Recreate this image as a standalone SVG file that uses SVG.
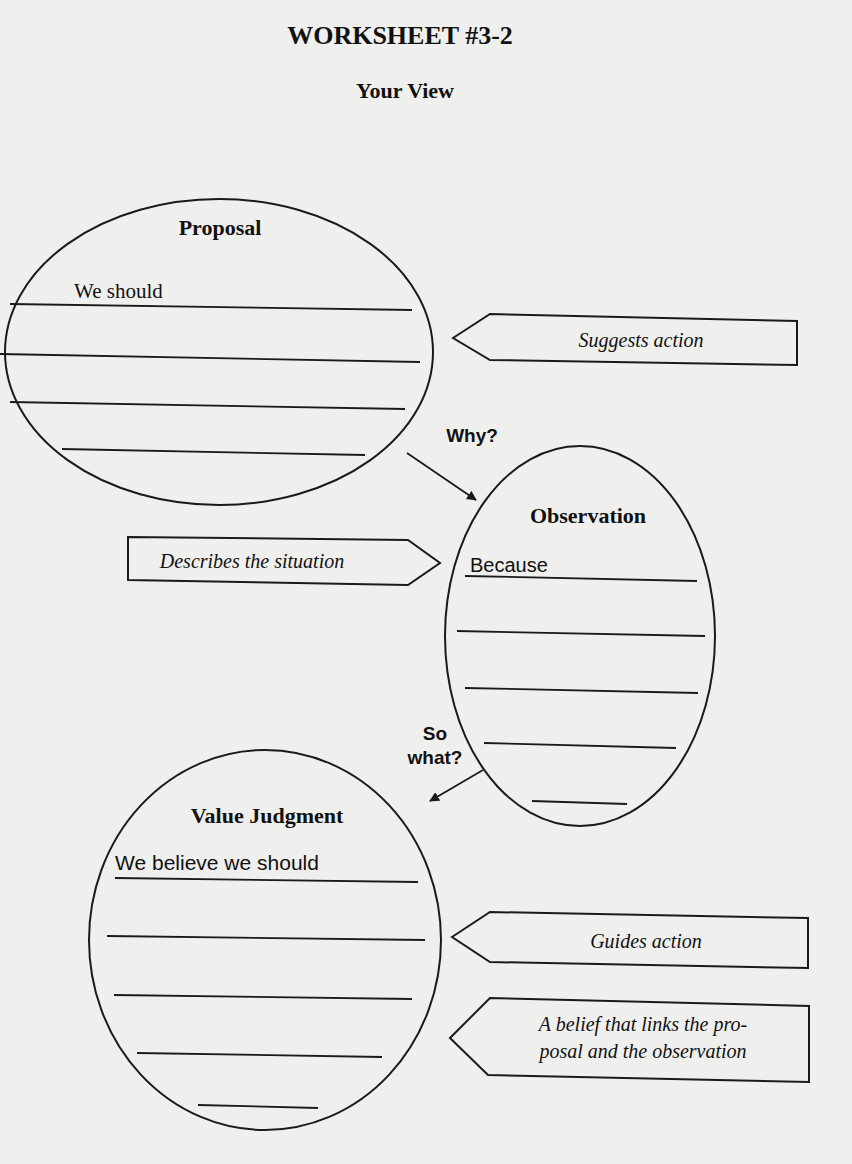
<svg xmlns="http://www.w3.org/2000/svg" width="852" height="1164" viewBox="0 0 852 1164">
<style>
.o{fill:none;stroke:#1a1a1a;stroke-width:2}
.l{stroke:#1a1a1a;stroke-width:1.8}
.t{font-family:"Liberation Serif",serif;fill:#111}
.b{font-weight:bold}
.i{font-style:italic;font-size:20px}
</style>
<defs><marker id="a" markerWidth="10" markerHeight="10" refX="9" refY="5" orient="auto" markerUnits="userSpaceOnUse"><path d="M0,0L10,5L0,10z" fill="#1a1a1a"/></marker></defs>
<rect width="852" height="1164" fill="#efefed"/>
<text class="t b" x="400" y="44" font-size="26" text-anchor="middle">WORKSHEET #3-2</text>
<text class="t b" x="405" y="98" font-size="22" text-anchor="middle">Your View</text>
<g id="proposal">
<ellipse class="o" cx="219" cy="352" rx="214" ry="153"/>
<text class="t b" x="220" y="235" font-size="22" text-anchor="middle">Proposal</text>
<text class="t" x="74" y="298" font-size="21">We should</text>
<line class="l" x1="10" y1="304" x2="412" y2="310"/>
<line class="l" x1="0" y1="354" x2="420" y2="362"/>
<line class="l" x1="10" y1="402" x2="405" y2="409"/>
<line class="l" x1="62" y1="449" x2="365" y2="455"/>
</g>
<g id="observation">
<ellipse class="o" cx="580" cy="636" rx="135" ry="190"/>
<text class="t b" x="588" y="523" font-size="22" text-anchor="middle">Observation</text>
<text class="t" x="470" y="572" font-size="20" style="font-family:'Liberation Sans',sans-serif">Because</text>
<line class="l" x1="465" y1="576" x2="697" y2="581"/>
<line class="l" x1="457" y1="631" x2="705" y2="636"/>
<line class="l" x1="465" y1="688" x2="698" y2="693"/>
<line class="l" x1="484" y1="743" x2="676" y2="748"/>
<line class="l" x1="532" y1="801" x2="627" y2="804"/>
</g>
<g id="value">
<ellipse class="o" cx="265" cy="940" rx="176" ry="190"/>
<text class="t b" x="267" y="823" font-size="22" text-anchor="middle">Value Judgment</text>
<text class="t" x="115" y="870" font-size="21" style="font-family:'Liberation Sans',sans-serif">We believe we should</text>
<line class="l" x1="115" y1="878" x2="418" y2="882"/>
<line class="l" x1="107" y1="936" x2="425" y2="940"/>
<line class="l" x1="114" y1="995" x2="412" y2="999"/>
<line class="l" x1="137" y1="1053" x2="382" y2="1057"/>
<line class="l" x1="198" y1="1105" x2="318" y2="1108"/>
</g>
<g id="suggests">
<polygon class="o" points="453,338 490,314 797,321 797,365 490,360"/>
<text class="t i" x="641" y="347" text-anchor="middle">Suggests action</text>
</g>
<g id="describes">
<polygon class="o" points="128,537 408,540 440,563 408,585 128,580"/>
<text class="t i" x="252" y="568" text-anchor="middle">Describes the situation</text>
</g>
<g id="guides">
<polygon class="o" points="452,937 490,912 808,918 808,968 490,962"/>
<text class="t i" x="646" y="948" text-anchor="middle">Guides action</text>
</g>
<g id="belief">
<polygon class="o" points="450,1038 490,998 809,1006 809,1082 488,1075"/>
<text class="t i" x="643" y="1031" text-anchor="middle">A belief that links the pro-</text>
<text class="t i" x="643" y="1058" text-anchor="middle">posal and the observation</text>
</g>
<g id="connectors">
<line class="l" x1="407" y1="453" x2="476" y2="500" marker-end="url(#a)"/>
<text class="t b" x="472" y="442" font-size="19" text-anchor="middle" style="font-family:'Liberation Sans',sans-serif">Why?</text>
<line class="l" x1="483" y1="770" x2="430" y2="801" marker-end="url(#a)"/>
<text class="t b" x="435" y="740" font-size="19" text-anchor="middle" style="font-family:'Liberation Sans',sans-serif">So</text>
<text class="t b" x="435" y="764" font-size="19" text-anchor="middle" style="font-family:'Liberation Sans',sans-serif">what?</text>
</g>
</svg>
